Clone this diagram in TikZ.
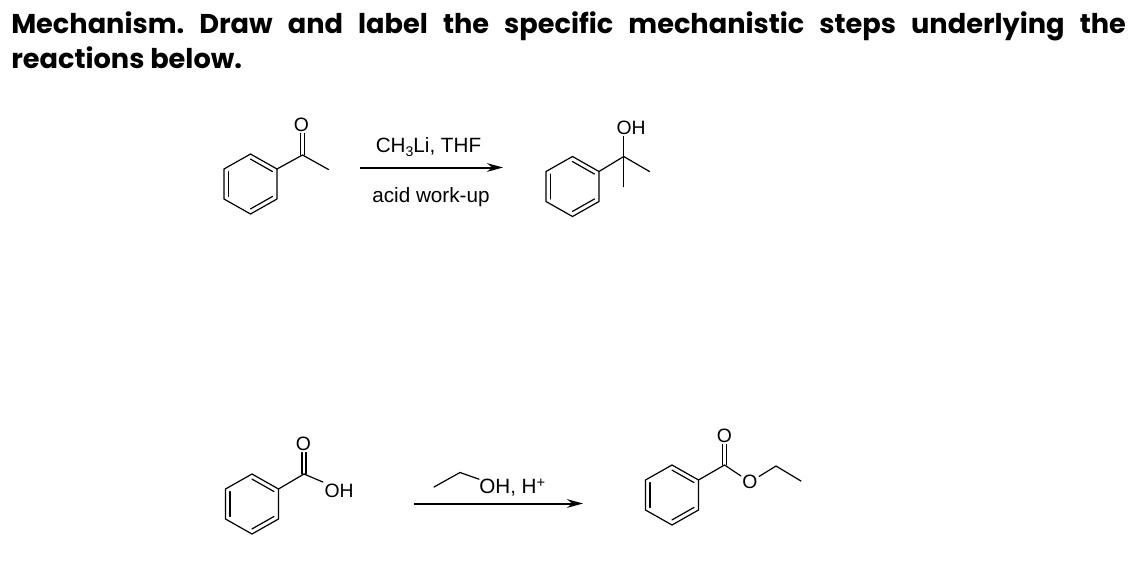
\documentclass[tikz,border=0pt]{standalone}
\usepackage{fontspec}
\setmainfont{Liberation Sans}
\newfontfamily\titlefont{Poppins}
\usetikzlibrary{calc,arrows.meta}
\tikzset{
  bond/.style={line width=0.9pt,black,line cap=round,line join=round},
  atom/.style={inner sep=1pt,font=\fontsize{14.5pt}{16pt}\selectfont,text=black},
  reagent/.style={inner sep=0pt,font=\fontsize{15.5pt}{17pt}\selectfont,text=black},
  rxn/.style={line width=1.5pt,black,-{Stealth[length=12pt,width=6.5pt]}},
}
\newcommand{\phring}[3]{%
  \coordinate (#1c) at (#2,#3);
  \coordinate (#1t) at (#2,#3-30);
  \coordinate (#1ur) at (#2+26.5,#3-15);
  \coordinate (#1lr) at (#2+26.5,#3+15);
  \coordinate (#1b) at (#2,#3+30);
  \coordinate (#1ll) at (#2-26.5,#3+15);
  \coordinate (#1ul) at (#2-26.5,#3-15);
  \draw[bond] (#1t) -- (#1ur) -- (#1lr) -- (#1b) -- (#1ll) -- (#1ul) -- cycle;
  \draw[bond] ($(#1t)!.17!(#1c)$) -- ($(#1ur)!.17!(#1c)$);
  \draw[bond] ($(#1lr)!.17!(#1c)$) -- ($(#1b)!.17!(#1c)$);
  \draw[bond] ($(#1ll)!.17!(#1c)$) -- ($(#1ul)!.17!(#1c)$);
}
\begin{document}
\begin{tikzpicture}[x=0.75pt,y=-0.75pt]
\useasboundingbox (0,0) rectangle (1146,561);
\node[anchor=base west,inner sep=0pt,text=black] (title1) at (11,33)
 {\makebox[836pt][s]{\titlefont\bfseries\fontsize{20.4pt}{26pt}\selectfont Mechanism.\hfill Draw\hfill and\hfill label\hfill the\hfill specific\hfill mechanistic\hfill steps\hfill underlying\hfill the}};
\node[anchor=base west,inner sep=0pt,text=black] (title2) at (11,68)
 {\titlefont\bfseries\fontsize{20.4pt}{26pt}\selectfont reactions below.};

% Reaction 1 reactant
\phring{a}{250.5}{184}
\coordinate (a1) at (302.5,155);
\coordinate (a2) at (328.5,169.5);
\node[atom] (ao) at (301.5,125) {O};
\draw[bond] (aur) -- (a1) -- (a2);
\draw[bond] ([xshift=-1.5pt]a1) -- ([xshift=-1.5pt]a1 |- ao.south);
\draw[bond] ([xshift=1.5pt]a1) -- ([xshift=1.5pt]a1 |- ao.south);

% Reaction 1 arrow and reagents
\coordinate (r1s) at (360,167.5);
\coordinate (r1e) at (503,167.5);
\draw[rxn] (r1s) -- (r1e);
\node[reagent] (r1t) at (428.5,147) {CH\raisebox{-2.5pt}{\fontsize{10.5pt}{10pt}\selectfont 3}Li, THF};
\node[reagent] (r1b) at (431,197) {acid work-up};

% Reaction 1 product
\phring{b}{572.5}{186.5}
\coordinate (b1) at (623.7,156.5);
\coordinate (b2) at (649.5,171.5);
\coordinate (b3) at (623.7,186.5);
\node[atom] (boh) at (631,128) {OH};
\draw[bond] (bur) -- (b1) -- (b2);
\draw[bond] (b1) -- (b3);
\draw[bond] (b1) -- (b1 |- boh.south);

% Reaction 2 reactant
\phring{c}{252}{504}
\coordinate (c1) at (304,474);
\node[atom] (co) at (303.5,444) {O};
\node[atom] (coh) at (339,490.5) {OH};
\draw[bond] (cur) -- (c1);
\draw[bond] (c1) -- (coh.north west);
\draw[bond] ([xshift=-1.5pt]c1) -- ([xshift=-1.5pt]c1 |- co.south);
\draw[bond] ([xshift=1.5pt]c1) -- ([xshift=1.5pt]c1 |- co.south);

% Reaction 2 arrow and reagent
\coordinate (r2s) at (414,503.5);
\coordinate (r2e) at (583,503.5);
\draw[rxn] (r2s) -- (r2e);
\node[reagent,anchor=west] (r2t) at (479,488) {OH, H\raisebox{4.5pt}{\fontsize{11pt}{10pt}\selectfont +}};
\coordinate (e1) at (434,487);
\coordinate (e2) at (460,472.5);
\draw[bond] (e1) -- (e2) -- (r2t.north west);

% Reaction 2 product
\phring{d}{672}{495}
\coordinate (d1) at (724.5,465);
\node[atom] (do) at (724.5,436) {O};
\node[atom] (de) at (750,482) {O};
\coordinate (d2) at (776,466);
\coordinate (d3) at (801,481);
\draw[bond] (dur) -- (d1) -- (de) -- (d2) -- (d3);
\draw[bond] ([xshift=-1.5pt]d1) -- ([xshift=-1.5pt]d1 |- do.south);
\draw[bond] ([xshift=1.5pt]d1) -- ([xshift=1.5pt]d1 |- do.south);
\end{tikzpicture}
\end{document}
